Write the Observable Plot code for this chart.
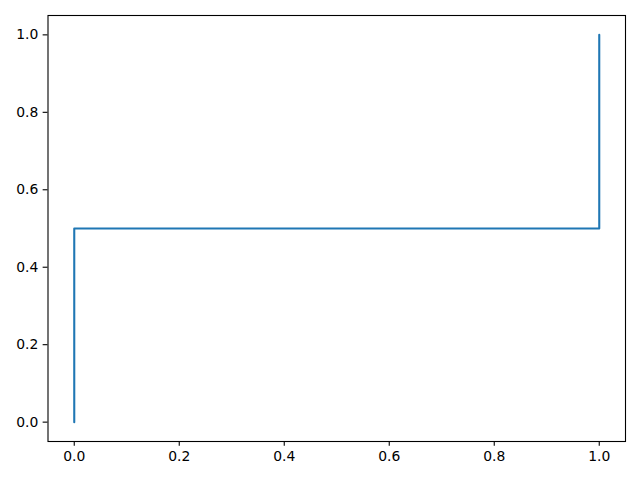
<!DOCTYPE html>
<html>
<head>
<meta charset="utf-8">
<script src="https://cdn.jsdelivr.net/npm/d3@7"></script>
<script src="https://cdn.jsdelivr.net/npm/@observablehq/plot@0.6"></script>
<style>
  html, body { margin: 0; padding: 0; background: #fff; }
  svg { display: block; }
</style>
</head>
<body>
<div id="chart"></div>
<script>
const xs = [0, 0, 1, 1];
const ys = [0, 0.5, 0.5, 1];
const xTicks = [0, 0.2, 0.4, 0.6, 0.8, 1.0];
const yTicks = [0, 0.2, 0.4, 0.6, 0.8, 1.0];

const data = xs.map((x, i) => ({x, y: ys[i]}));
const fmt = d3.format(".1f");

const chart = Plot.plot({
  width: 640,
  height: 480,
  marginLeft: 47.5,
  marginRight: 15,
  marginTop: 15,
  marginBottom: 39,
  style: {fontFamily: "DejaVu Sans", fontSize: "13.9px", background: "#fff", color: "#000"},
  x: {domain: [-0.05, 1.05]},
  y: {domain: [-0.05, 1.05]},
  marks: [
    Plot.line(data, {x: "x", y: "y", stroke: "#1f77b4", strokeWidth: 2.08}),
    Plot.frame({stroke: "#000", strokeWidth: 1.1}),
    Plot.axisX({ticks: xTicks, tickFormat: fmt, tickSize: 4.86, tickPadding: 4.86, label: null, fontSize: 13.9, stroke: "#000", strokeWidth: 1.1}),
    Plot.axisY({ticks: yTicks, tickFormat: fmt, tickSize: 4.86, tickPadding: 4.86, label: null, fontSize: 13.9, stroke: "#000", strokeWidth: 1.1})
  ]
});
document.getElementById("chart").appendChild(chart);
</script>
</body>
</html>
